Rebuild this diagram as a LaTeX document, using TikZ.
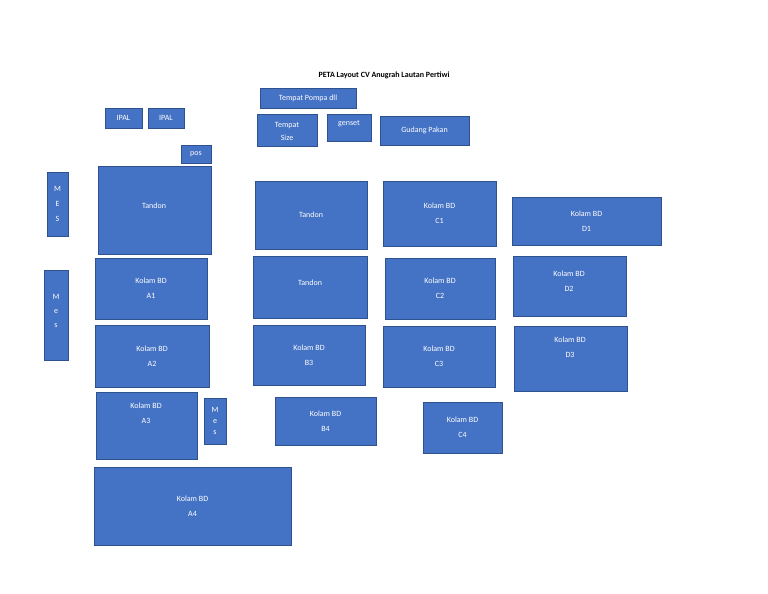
\documentclass[tikz,border=0pt]{standalone}
\usepackage{fontspec}
\setmainfont{Carlito}
\definecolor{bfill}{HTML}{4472C4}
\definecolor{bdraw}{HTML}{2F528F}
\begin{document}
\begin{tikzpicture}[x=1pt,y=-1pt,
  bx/.style={draw=bdraw,fill=bfill,line width=0.8pt},
  lbl/.style={text=white,font=\fontsize{8}{15}\selectfont,align=center}]
\useasboundingbox (0,0) rectangle (768,594);
\node[font=\bfseries\fontsize{8}{10}\selectfont] (title) at (384,75) {PETA Layout CV Anugrah Lautan Pertiwi};
\newcommand{\bxx}[6]{\draw[bx] (#2,#3) rectangle (#4,#5); \node[lbl] (#1) at ({(#2+#4)/2},{(#3+#5)/2}) {#6};}
\bxx{pompa}{260}{88}{356}{108}{Tempat Pompa dll}
\bxx{ipal1}{105}{108}{142}{128}{IPAL}
\bxx{ipal2}{148}{108}{184}{128}{IPAL}
\draw[bx] (257,114) rectangle (317,146); \node[lbl,font=\fontsize{8}{13}\selectfont] (size) at (287,131) {Tempat\\Size};
\draw[bx] (327,114) rectangle (371,141); \node[lbl] (genset) at (349,124) {genset};
\bxx{gudang}{380}{116}{469}{145}{Gudang Pakan}
\bxx{pos}{181}{145}{211}{163}{pos}
\draw[bx] (47,172) rectangle (68,236); \node[lbl,font=\fontsize{8}{15}\selectfont] (mes1) at (57.5,204) {M\\E\\S};
\draw[bx] (98,166) rectangle (211,254); \node[lbl] (t1) at (154,206) {Tandon};
\bxx{t2}{255}{181}{367}{249}{Tandon}
\bxx{c1}{383}{181}{496}{246}{Kolam BD\\C1}
\bxx{d1}{512}{197}{661}{245}{Kolam BD\\D1}
\draw[bx] (44,270) rectangle (68,360); \node[lbl,font=\fontsize{8}{14}\selectfont] (mes2) at (56,311) {M\\e\\s};
\bxx{a1}{95}{258}{207}{319}{Kolam BD\\A1}
\draw[bx] (253,256) rectangle (367,318); \node[lbl] (t3) at (310,283) {Tandon};
\bxx{c2}{385}{258}{495}{319}{Kolam BD\\C2}
\draw[bx] (513,256) rectangle (626,316); \node[lbl] (d2) at (569,281) {Kolam BD\\D2};
\bxx{a2}{95}{325}{209}{387}{Kolam BD\\A2}
\bxx{b3}{253}{325}{365}{385}{Kolam BD\\B3}
\bxx{c3}{383}{326}{495}{387}{Kolam BD\\C3}
\draw[bx] (514,326) rectangle (627,391); \node[lbl] (d3) at (570,347) {Kolam BD\\D3};
\draw[bx] (96,392) rectangle (197,459); \node[lbl] (a3) at (146,413) {Kolam BD\\A3};
\draw[bx] (204,398) rectangle (226,444); \node[lbl,font=\fontsize{8}{11}\selectfont] (mes3) at (215,421) {M\\e\\s};
\bxx{b4}{275}{397}{376}{445}{Kolam BD\\B4}
\bxx{c4}{423}{402}{502}{453}{Kolam BD\\C4}
\bxx{a4}{94}{467}{291}{545}{Kolam BD\\A4}
\end{tikzpicture}
\end{document}
